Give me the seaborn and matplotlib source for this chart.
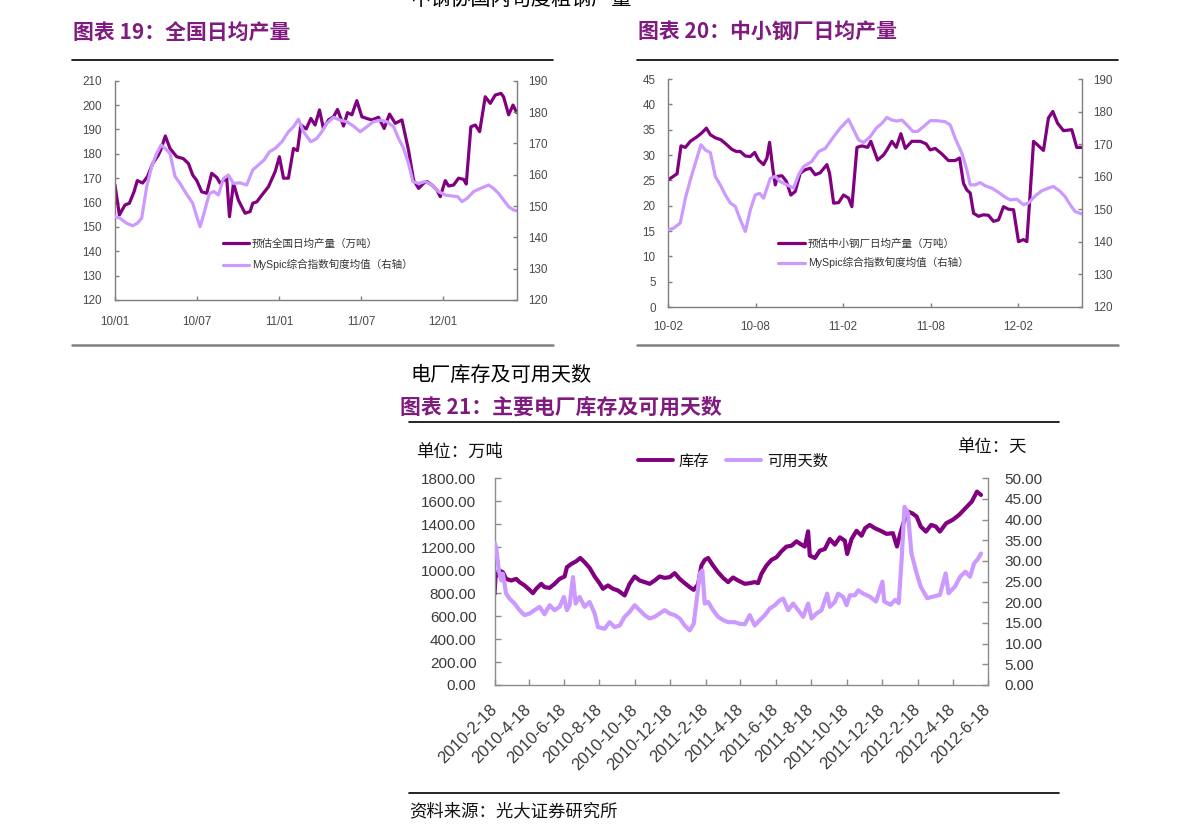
import numpy as np
import pandas as pd
import matplotlib
matplotlib.use("Agg")
import matplotlib.pyplot as plt
import seaborn as sns
from matplotlib.lines import Line2D
from matplotlib.ticker import FormatStrFormatter

# ---------------- data ----------------
# Chart 19: national daily output (left) & MySpic index (right); x = months since 2010-01
c1_prod_m = [0.0,0.32,0.73,1.05,1.39,1.63,2.02,2.37,2.76,3.17,3.34,3.68,4.02,4.51,5.0,5.37,5.68,5.98,6.34,6.71,
             7.07,7.44,7.68,7.98,8.17,8.37,8.66,9.02,9.51,9.88,10.07,10.37,10.73,11.22,11.71,12.02,12.32,12.68,13.05,13.34,
             13.59,13.98,14.32,14.63,14.95,15.24,15.61,15.98,16.27,16.71,17.0,17.32,17.68,18.05,18.41,18.78,19.27,19.68,20.07,20.49,
             20.98,21.46,21.83,22.2,22.56,22.8,23.17,23.54,23.78,24.15,24.39,24.76,25.12,25.49,25.68,26.02,26.34,26.66,27.07,27.44,
             27.8,28.22,28.41,28.78,29.1,29.37]
c1_prod = [167.2,154.9,159,159.7,164.4,169,168,170.6,176,179.5,181.5,187.3,182.2,178.8,178,176,171.3,169,164.4,163.8,
           172,170.3,168,169.2,170,154.2,167.9,161,155.6,156.3,159.7,160.3,163,166.5,172.7,178.8,170,170,182.2,181.3,
           191.8,190.2,194.5,191.8,198,190.4,193.9,195.2,198.2,191.4,196.9,196,201.8,195.2,194.5,193.9,195,190.4,196.3,192.5,
           193.9,181.5,169.2,165.8,167.9,168.6,167.2,165.1,162.4,169,166.8,167.2,170,169.5,167.6,191.1,191.8,189.1,203.4,200.7,
           204.1,204.8,203.4,196,200,196.9]
c1_idx_m = [0,0.37,0.85,1.29,1.63,1.95,2.32,2.68,3.05,3.37,3.73,4.02,4.39,4.76,5.2,5.68,5.98,6.22,6.51,6.9,
            7.24,7.56,7.93,8.29,8.66,9.15,9.63,10.07,10.49,10.9,11.29,11.71,12.2,12.68,13.05,13.41,13.78,14.32,14.76,15.12,
            15.49,15.98,16.46,16.95,17.44,17.93,18.41,18.9,19.39,19.88,20.37,20.73,21.1,21.46,21.78,22.2,22.68,23.17,23.66,24.15,
            24.63,25.05,25.37,25.73,26.22,26.71,27.32,27.68,28.05,28.41,28.78,29.15,29.37]
c1_idx = [146.6,146.1,144.5,143.7,144.5,146.1,156.2,162.6,166.8,169.5,168.1,166.8,159.4,157.2,154,150.9,146.6,143.4,147.7,154,
          154.6,153.5,158.8,159.9,157.2,157.4,156.7,161.5,163.1,164.7,167.3,168.4,170.5,173.7,175.3,177.7,173.7,170.5,171.6,173.7,
          176.4,178.3,177.4,176.9,175.5,173.7,175.3,176.9,177.4,176.9,175.3,171.6,168.4,163.6,157.8,157.2,157.8,156.7,154.6,153.5,
          153.2,153,151.4,152.4,154.6,155.6,156.7,155.6,154,151.9,149.8,148.7,148.5]
c1_ticks = [0, 6, 12, 18, 24]
c1_ticklabels = ["10/01", "10/07", "11/01", "11/07", "12/01"]

# Chart 20: small/medium mills daily output (left) & MySpic index (right); x = months since 2010-02
c2_prod_m = [0.0,0.27,0.62,0.89,1.19,1.53,1.99,2.33,2.63,2.9,3.24,3.63,4.04,4.38,4.68,4.95,5.3,5.64,5.94,6.21,
             6.55,6.78,6.96,7.19,7.35,7.51,7.81,8.11,8.42,8.72,9.06,9.41,9.75,10.09,10.43,10.89,11.07,11.35,11.69,12.03,
             12.37,12.6,12.95,13.29,13.68,13.9,14.36,14.77,15.0,15.34,15.64,15.96,16.26,16.71,17.28,17.69,17.97,18.31,18.77,19.22,
             19.68,19.98,20.25,20.48,20.71,20.94,21.28,21.62,21.96,22.31,22.65,22.99,23.33,23.68,24.02,24.36,24.59,24.82,25.05,25.32,
             25.73,26.07,26.37,26.69,27.1,27.67,28.01,28.35]
c2_prod = [25.1,25.6,26.3,31.8,31.5,32.7,33.6,34.4,35.3,34.0,33.4,33.0,32.0,31.1,30.7,30.7,29.8,29.7,30.5,29.0,
           28.1,29.4,32.5,27.1,24.1,25.8,25.9,24.8,22.1,22.8,26.4,27.1,27.4,26.1,26.5,28.1,26.4,20.5,20.6,22.1,
           21.5,19.8,31.5,31.8,31.5,32.7,29.0,30.0,31.0,32.7,31.5,34.2,31.3,32.7,32.7,32.2,31.0,31.3,30.2,28.9,
           28.9,29.4,24.4,23.1,22.5,18.5,17.9,18.2,18.1,16.9,17.2,19.8,19.3,19.2,12.9,13.3,12.9,22.5,32.7,32.0,
           30.9,37.3,38.6,36.3,34.8,35.0,31.5,31.5]
c2_idx_m = [0,0.39,0.84,1.19,1.53,1.87,2.26,2.56,2.9,3.24,3.58,3.93,4.27,4.61,4.95,5.3,5.64,5.98,6.28,6.55,
            7.01,7.35,7.69,8.15,8.61,8.95,9.29,9.86,10.32,10.78,11.35,11.8,12.37,12.72,13.06,13.4,13.86,14.27,14.66,15.0,
            15.34,15.68,16.03,16.37,16.78,17.1,17.51,17.97,18.42,18.99,19.34,19.68,20.14,20.48,20.71,21.05,21.39,21.74,22.19,22.65,
            23.11,23.45,23.9,24.36,24.7,25.16,25.62,26.07,26.42,26.87,27.21,27.56,27.9,28.35]
c2_idx = [143.7,144.2,145.8,153.4,159.0,164.1,169.8,168.2,167.4,160.1,157.5,154.4,151.9,150.9,146.8,143.2,149.8,154.4,154.9,153.4,
          159.5,160.1,158.5,157.5,156.5,160.6,163.1,164.7,167.7,168.7,172.3,174.9,177.6,174.4,171.3,170.5,172.3,174.9,176.4,178.2,
          177.4,177.1,177.4,175.9,173.9,173.9,175.4,177.2,177.2,176.9,175.9,171.8,167.2,162.1,157.5,157.5,158.2,157.2,156.5,155.2,
          153.7,152.9,153.1,151.4,151.9,154.1,155.7,156.5,157.0,155.5,153.9,151.4,149.3,148.6]
c2_ticks = [0, 6, 12, 18, 24]
c2_ticklabels = ["10-02", "10-08", "11-02", "11-08", "12-02"]

# Chart 21: power plant coal stock (left, 万吨) & usable days (right); x = days since 2010-02-18
c3_start = "2010-02-18"
c3_stock_d = [0,1.7,8.6,14.4,20.1,28.8,37.4,43.2,51.8,60.4,66.2,71.9,80.6,86.3,95,103.6,112.2,120.9,124.9,132.4,
              141,147.9,155.4,164,172.7,181.3,187,195.6,204.3,212.9,224.4,233,241.7,250.3,258.9,267.6,276.2,284.8,293.4,302.1,
              310.7,319.4,328,336.6,343.5,351,356.8,362.5,368.3,376.9,385.5,394.2,402.8,411.4,420,431.6,440.2,448.8,454.5,460.3,
              468.9,477.5,486.2,494.8,503.4,512.1,520.7,527.6,535.1,540.8,543.7,552.4,561,569.6,578.2,586.9,595.5,604.1,608.2,615.7,
              624.3,633,639,647,656,665,676,687,694,700,705,713,720,728,735,744,753,761,768,779,
              790,801,812,823,832,839]
c3_stock = [789,939,997,982,924,910,924,896,867,829,800,838,881,852,846,881,924,945,1026,1054,
            1078,1106,1069,1020,945,885,838,867,838,823,780,881,945,910,896,881,910,945,933,939,
            974,924,887,852,829,875,1040,1089,1106,1040,982,933,896,936,910,881,887,896,887,968,
            1040,1089,1112,1164,1205,1213,1251,1228,1205,1338,1127,1106,1170,1184,1271,1222,1286,1257,1141,1271,
            1343,1300,1365,1394,1365,1345,1316,1322,1206,1322,1409,1510,1496,1467,1380,1336,1394,1380,1336,1409,
            1438,1481,1539,1597,1684,1655]
c3_days_d = [0,2.9,7.5,11.5,14.4,20.1,25.9,34.5,43.2,51.8,60.4,69,77.7,86.3,95,103.6,112.2,119.7,124.9,129.5,
             135.3,139.9,146.8,155.4,164,172.7,178.5,189.9,198.5,207.1,215.8,224.4,233,241.7,250.3,258.9,267.6,276.2,284.8,293.4,
             302.1,310.7,319.4,328,336.6,343.5,349.3,353.9,358.5,362.5,368.3,376.9,385.5,394.2,402.8,414.3,422.9,431.6,440.2,448.8,
             457.5,466.1,474.7,483.4,492,497.8,506.4,515,523.7,532.3,540.9,546.7,555.3,563.9,573.7,578.3,586.9,592.6,601.3,607,
             612.8,621.4,627.2,635.8,647,658,669,672,683,691,697,702,707,713,719,728,735,746,757,768,
             778,783,794,803,812,820,827,834,839]
c3_days = [34.5,33.3,27.7,25.3,26.9,22.1,20.9,19.7,18.1,16.9,17.3,18.1,18.9,17.1,19.3,18.1,18.9,21.3,18.1,19.3,
           26.1,19.7,21.3,18.9,20.1,17.3,14.0,13.6,15.2,14.0,14.4,16.5,17.7,19.3,18.1,16.9,16.1,16.5,17.3,18.1,
           17.3,16.9,16.1,14.4,13.2,14.8,21.3,26.9,27.7,19.7,20.1,18.1,16.5,15.7,15.2,15.2,14.8,14.7,16.9,14.4,
           15.7,16.9,18.5,19.3,20.5,20.9,18.1,19.7,18.1,16.5,19.7,16.1,17.3,18.1,22.1,18.9,20.1,22.1,21.3,19.3,
           21.7,21.7,22.9,22.1,21.4,20.2,25.0,20.2,19.4,20.6,19.8,30.2,43.1,41.5,31.8,27.0,23.8,21.0,21.4,21.8,
           27.0,22.2,23.8,26.2,27.4,26.2,29.4,30.6,31.8]
c3_ticklabels = ["2010-2-18","2010-4-18","2010-6-18","2010-8-18","2010-10-18","2010-12-18","2011-2-18",
                 "2011-4-18","2011-6-18","2011-8-18","2011-10-18","2011-12-18","2012-2-18","2012-4-18","2012-6-18"]

# ---------------- style ----------------
sns.set_theme(style="white")
plt.rcParams["font.family"] = ["Liberation Sans", "Noto Sans CJK SC", "DejaVu Sans"]
plt.rcParams["axes.unicode_minus"] = False

DARK = "#800080"
LIGHT = "#cc99ff"
TITLE = "#7f1a7f"
CJK = ["Noto Sans CJK SC", "DejaVu Sans"]

W, H = 1191, 840
fig = plt.figure(figsize=(W / 100, H / 100), dpi=100)


def fx(x):
    return x / W


def fy(y):
    return 1 - y / H


def rect(x0, y0, x1, y1):
    return [fx(x0), fy(y1), (x1 - x0) / W, (y1 - y0) / H]


def hline(x0, x1, y, color="black", lw=1.2):
    fig.add_artist(Line2D([fx(x0), fx(x1)], [fy(y), fy(y)], transform=fig.transFigure,
                          color=color, lw=lw))


def style_pair(ax, ax2, scol, lsize, lcol, lpad, rpad, xpad, tlen, xsize=None):
    for a in (ax, ax2):
        a.spines["top"].set_visible(False)
        for s in a.spines.values():
            s.set_color(scol)
            s.set_linewidth(1.0)
        a.grid(False)
        a.set_xlabel("")
        a.set_ylabel("")
    ax.spines["right"].set_visible(False)
    ax2.spines["left"].set_visible(False)
    ax2.spines["bottom"].set_visible(False)
    ax.tick_params(axis="y", which="both", direction="in", length=tlen, width=1, color=scol,
                   labelsize=lsize, labelcolor=lcol, pad=lpad, left=True)
    ax.tick_params(axis="x", which="both", direction="in", length=tlen, width=1, color=scol,
                   labelsize=xsize or lsize, labelcolor=lcol, pad=xpad, bottom=True)
    ax2.tick_params(axis="y", which="both", direction="in", length=tlen, width=1, color=scol,
                    labelsize=lsize, labelcolor=lcol, pad=rpad, right=True)


# ---------------- Chart 19 ----------------
ax1 = fig.add_axes(rect(115, 80.7, 516.7, 300))
ax1b = ax1.twinx()
sns.lineplot(x=c1_prod_m, y=c1_prod, ax=ax1, color=DARK, lw=2.3, legend=False, sort=False)
sns.lineplot(x=c1_idx_m, y=c1_idx, ax=ax1b, color=LIGHT, lw=2.3, legend=False, sort=False)
ax1.set_xlim(0, 29.37)
ax1.set_ylim(120, 210)
ax1.set_yticks(np.arange(120, 211, 10))
ax1b.set_ylim(120, 190)
ax1b.set_yticks(np.arange(120, 191, 10))
ax1.set_xticks(c1_ticks, labels=c1_ticklabels)
style_pair(ax1, ax1b, "#7f7f7f", 8.4, "#4a4a4a", 9.5, 8, 11.5, 3)
ax1b.legend(handles=[Line2D([], [], color=DARK, lw=2.3), Line2D([], [], color=LIGHT, lw=2.3)],
            labels=["预估全国日均产量（万吨）", "MySpic综合指数旬度均值（右轴）"],
            loc="upper left", bbox_to_anchor=(fx(222.7), fy(239)), bbox_transform=fig.transFigure,
            frameon=False, fontsize=7.6, handlelength=2.45, handletextpad=0.3, labelspacing=0.95,
            borderpad=0, borderaxespad=0, labelcolor="#333333")

fig.text(fx(73.3), fy(32.3), "图表 19：全国日均产量", color=TITLE, fontsize=15, fontweight="bold",
         ha="left", va="center", family=CJK)
hline(72.3, 553.3, 60.3, "black", 1.2)
hline(72.3, 553.3, 345, "#808080", 1.8)

# ---------------- Chart 20 ----------------
ax2 = fig.add_axes(rect(668, 79, 1081.7, 307))
ax2b = ax2.twinx()
sns.lineplot(x=c2_prod_m, y=c2_prod, ax=ax2, color=DARK, lw=2.3, legend=False, sort=False)
sns.lineplot(x=c2_idx_m, y=c2_idx, ax=ax2b, color=LIGHT, lw=2.3, legend=False, sort=False)
ax2.set_xlim(0, 28.35)
ax2.set_ylim(0, 45)
ax2.set_yticks(np.arange(0, 46, 5))
ax2b.set_ylim(120, 190)
ax2b.set_yticks(np.arange(120, 191, 10))
ax2.set_xticks(c2_ticks, labels=c2_ticklabels)
style_pair(ax2, ax2b, "#7f7f7f", 8.4, "#4a4a4a", 9, 8, 10, 3)
ax2b.legend(handles=[Line2D([], [], color=DARK, lw=2.3), Line2D([], [], color=LIGHT, lw=2.3)],
            labels=["预估中小钢厂日均产量（万吨）", "MySpic综合指数旬度均值（右轴）"],
            loc="upper left", bbox_to_anchor=(fx(778), fy(239)), bbox_transform=fig.transFigure,
            frameon=False, fontsize=7.6, handlelength=2.6, handletextpad=0.25, labelspacing=0.75,
            borderpad=0, borderaxespad=0, labelcolor="#333333")

fig.text(fx(638), fy(32.3), "图表 20：中小钢厂日均产量", color=TITLE, fontsize=15, fontweight="bold",
         ha="left", va="center", family=CJK)
hline(636.7, 1118.3, 60.3, "black", 1.2)
hline(636.7, 1118.3, 345, "#808080", 1.8)

# ---------------- Chart 21 ----------------
base = pd.Timestamp(c3_start)
stock_x = base + pd.to_timedelta(c3_stock_d, unit="D")
days_x = base + pd.to_timedelta(c3_days_d, unit="D")
tick_x = pd.to_datetime(c3_ticklabels, format="%Y-%m-%d")

ax3 = fig.add_axes(rect(494.5, 478.3, 988, 685))
ax3b = ax3.twinx()
sns.lineplot(x=stock_x, y=c3_stock, ax=ax3, color=DARK, lw=3.0, legend=False, sort=False)
sns.lineplot(x=days_x, y=c3_days, ax=ax3b, color=LIGHT, lw=3.0, legend=False, sort=False)
ax3.set_xlim(tick_x[0], tick_x[-1])
ax3.set_ylim(0, 1800)
ax3.set_yticks(np.arange(0, 1801, 200))
ax3b.set_ylim(0, 50)
ax3b.set_yticks(np.arange(0, 51, 5))
ax3.yaxis.set_major_formatter(FormatStrFormatter("%.2f"))
ax3b.yaxis.set_major_formatter(FormatStrFormatter("%.2f"))
ax3.set_xticks(tick_x)
style_pair(ax3, ax3b, "#8c8c8c", 11, "#3a3a3a", 13, 12, 16, 4, xsize=12)
ax3.set_xticklabels(c3_ticklabels, rotation=45, ha="right", va="center", rotation_mode="anchor")
ax3b.legend(handles=[Line2D([], [], color=DARK, lw=2.8), Line2D([], [], color=LIGHT, lw=2.8)],
            labels=["库存", "可用天数"], ncol=2,
            loc="center left", bbox_to_anchor=(fx(637.6), fy(461.7)), bbox_transform=fig.transFigure,
            frameon=False, fontsize=11, handlelength=2.3, handletextpad=0.4, columnspacing=1.1,
            borderpad=0, borderaxespad=0, labelcolor="#111111")

fig.text(fx(410), fy(-1), "中钢协国内旬度粗钢产量", color="black", fontsize=14.5,
         ha="left", va="center", family=CJK)
fig.text(fx(410.7), fy(375), "电厂库存及可用天数", color="black", fontsize=14.5,
         ha="left", va="center", family=CJK)
fig.text(fx(400), fy(406.7), "图表 21：主要电厂库存及可用天数", color=TITLE, fontsize=15,
         fontweight="bold", ha="left", va="center", family=CJK)
hline(408.5, 1059, 422.3, "black", 1.2)
fig.text(fx(416), fy(451.7), "单位：万吨", color="#111111", fontsize=12.5, ha="left", va="center", family=CJK)
fig.text(fx(956.6), fy(448.3), "单位：天", color="#111111", fontsize=12.5, ha="left", va="center", family=CJK)
hline(408.5, 1059, 793.3, "black", 1.2)
fig.text(fx(409), fy(811.7), "资料来源：光大证券研究所", color="#111111", fontsize=12.5,
         ha="left", va="center", family=CJK)

fig.savefig("out.png", dpi=100)
